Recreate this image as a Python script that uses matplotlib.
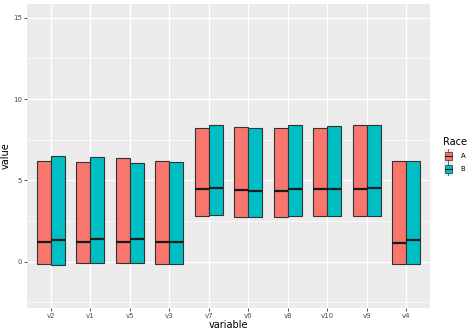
import numpy as np
import matplotlib.pyplot as plt
from matplotlib.patches import Rectangle

# ==========================
# Data
# ==========================
variables = ["v2", "v1", "v5", "v3", "v7", "v6", "v8", "v10", "v9", "v4"]

a_lower = [-0.12, -0.10, -0.10, -0.14, 2.79, 2.74, 2.72, 2.81, 2.79, -0.12]
a_median = [1.21, 1.23, 1.23, 1.21, 4.45, 4.38, 4.34, 4.47, 4.47, 1.17]
a_upper = [6.20, 6.15, 6.37, 6.20, 8.21, 8.30, 8.24, 8.24, 8.40, 6.17]

b_lower = [-0.23, -0.08, -0.08, -0.14, 2.85, 2.72, 2.83, 2.81, 2.81, -0.12]
b_median = [1.35, 1.39, 1.39, 1.21, 4.53, 4.36, 4.49, 4.45, 4.55, 1.31]
b_upper = [6.50, 6.43, 6.10, 6.15, 8.38, 8.21, 8.40, 8.34, 8.38, 6.20]

races = ["A", "B"]
colors = ["#F8766D", "#00BFC4"]

# ==========================
# Figure
# ==========================
fig = plt.figure(figsize=(4.74, 3.33), dpi=100)
ax = fig.add_axes([0.057, 0.075, 0.850, 0.913])
ax.set_facecolor("#EBEBEB")

x = np.arange(1, len(variables) + 1)
box_w = 0.35
offsets = [-0.18, 0.18]
groups = [(a_lower, a_median, a_upper), (b_lower, b_median, b_upper)]

for (lo, med, up), off, col in zip(groups, offsets, colors):
    for xi, l, m, u in zip(x, lo, med, up):
        ax.add_patch(Rectangle((xi + off - box_w / 2, l), box_w, u - l,
                               facecolor=col, edgecolor="#333333",
                               linewidth=0.8, zorder=3))
        ax.plot([xi + off - box_w / 2, xi + off + box_w / 2], [m, m],
                color="#1a1a1a", linewidth=1.6, zorder=4,
                solid_capstyle="butt")

ax.set_xlim(0.4, 10.6)
ax.set_ylim(-2.85, 15.85)

ax.set_xticks(x)
ax.set_xticklabels(variables)
ax.set_yticks([0, 5, 10, 15])
ax.set_yticks([-2.5, 2.5, 7.5, 12.5], minor=True)

ax.grid(True, which="major", color="white", linewidth=1.0, zorder=0)
ax.grid(True, which="minor", axis="y", color="white", linewidth=0.5, zorder=0)
ax.set_axisbelow(True)
for s in ax.spines.values():
    s.set_visible(False)

ax.tick_params(which="major", length=2.0, width=0.6, color="#333333",
               labelsize=5, labelcolor="#4D4D4D", pad=1.5)
ax.tick_params(which="minor", length=0)

ax.set_xlabel("variable", fontsize=7, labelpad=0.5, color="black")
ax.set_ylabel("value", fontsize=7, labelpad=1.5, color="black")

# ==========================
# Legend (ggplot style keys)
# ==========================
fig.text(0.934, 0.573, "Race", fontsize=7, va="center", ha="left")
key_y = [0.531, 0.492]
for ky, col, lab in zip(key_y, colors, races):
    kax = fig.add_axes([0.937, ky - 0.021, 0.018, 0.042])
    kax.set_xlim(0, 1)
    kax.set_ylim(0, 1)
    kax.axis("off")
    kax.add_patch(Rectangle((0, 0), 1, 1, facecolor="#EBEBEB", edgecolor="none"))
    kax.plot([0.5, 0.5], [0.0, 0.22], color="#333333", linewidth=0.5)
    kax.plot([0.5, 0.5], [0.78, 1.0], color="#333333", linewidth=0.5)
    kax.add_patch(Rectangle((0.08, 0.22), 0.84, 0.56, facecolor=col,
                            edgecolor="#333333", linewidth=0.5))
    kax.plot([0.08, 0.92], [0.5, 0.5], color="#1a1a1a", linewidth=0.8)
    fig.text(0.972, ky, lab, fontsize=5, va="center", ha="left")

plt.savefig("out.png", dpi=100)
